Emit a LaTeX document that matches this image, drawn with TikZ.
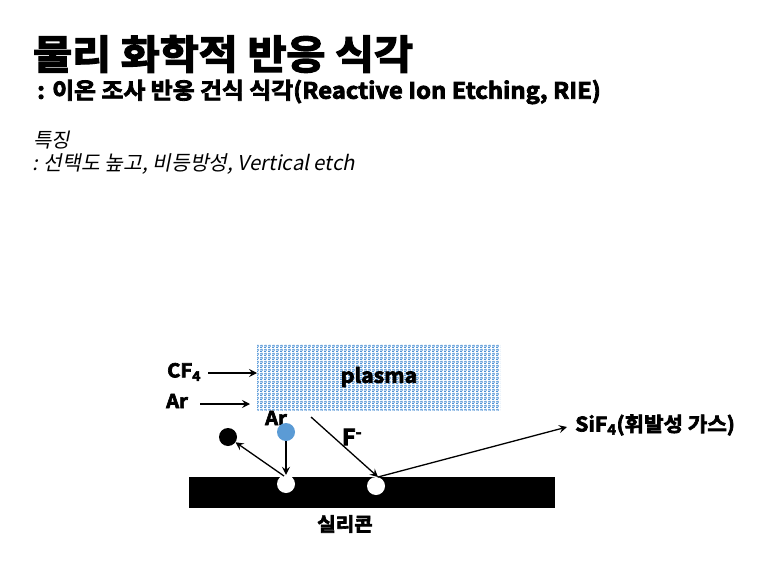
\documentclass[tikz,border=0pt]{standalone}
\usepackage{fontspec}
\usetikzlibrary{arrows.meta,patterns}
\setmainfont{Noto Sans CJK KR}
\newfontfamily\heavyf[FakeBold=3.5,FakeStretch=1.06]{Noto Sans CJK KR Bold}
\newfontfamily\slantf[FakeSlant=0.2]{Noto Sans CJK KR}
\definecolor{ionblue}{HTML}{5B9BD5}
\definecolor{plasmadot}{HTML}{4F93D6}
\pgfdeclarepatternformonly{plasmaweave}{\pgfqpoint{0pt}{0pt}}{\pgfqpoint{4pt}{4pt}}{\pgfqpoint{4pt}{4pt}}{
  \pgfpathrectangle{\pgfqpoint{0pt}{0pt}}{\pgfqpoint{2.4pt}{1.2pt}}
  \pgfpathrectangle{\pgfqpoint{2pt}{1pt}}{\pgfqpoint{1.2pt}{2.2pt}}
  \pgfpathrectangle{\pgfqpoint{0pt}{2pt}}{\pgfqpoint{1.2pt}{1.2pt}}
  \pgfpathrectangle{\pgfqpoint{1pt}{3pt}}{\pgfqpoint{2.4pt}{1pt}}
  \pgfusepath{fill}
}
\tikzset{
  lbl/.style={inner sep=0pt,font=\heavyf\fontsize{19}{21}\selectfont,text=black},
  ion/.style={circle,inner sep=0pt,minimum size=18pt},
  conn/.style={-{Stealth[length=8pt,width=8pt,inset=3pt]},line width=1.3pt,black},
}
\begin{document}
\begin{tikzpicture}[x=1pt,y=-1pt]
\path[use as bounding box,fill=white] (0,0) rectangle (773,580);
\node[anchor=west,inner sep=0pt,font=\heavyf\fontsize{40}{44}\selectfont] (title) at (33,54) {물리 화학적 반응 식각};
\node[anchor=west,inner sep=0pt,font=\heavyf\fontsize{22.5}{26}\selectfont] (sub) at (37,92) {: 이온 조사 반응 건식 식각(Reactive Ion Etching, RIE)};
\node[anchor=west,inner sep=0pt,font=\slantf\fontsize{20}{22}\selectfont] (feat) at (33,140) {특징};
\node[anchor=west,inner sep=0pt,font=\slantf\fontsize{20.4}{22}\selectfont] (feat2) at (32,164) {: 선택도 높고, 비등방성, Vertical etch};
%
\fill[pattern=plasmaweave,pattern color=plasmadot] (257,344) rectangle (500,410);
\coordinate (plasmaW) at (257,373);
\node[lbl,font=\heavyf\fontsize{20}{22}\selectfont] (plasma) at (379,377) {plasma};
\node[lbl,anchor=west] (cf) at (167,372) {CF\textsubscript{4}};
\node[lbl,anchor=west] (arA) at (166,401) {Ar};
\node[lbl] (arB) at (276,418) {Ar};
\node[lbl,font=\heavyf\fontsize{22}{24}\selectfont] (fion) at (352,437) {F\textsuperscript{-}};
\node[lbl,anchor=west,font=\heavyf\fontsize{20}{22}\selectfont] (sif) at (575,425) {SiF\textsubscript{4}(휘발성 가스)};
\node[lbl] (si) at (345,524) {실리콘};
\node[fill=black,minimum width=366pt,minimum height=31pt,inner sep=0pt] (bar) at (372,492.5) {};
\node[ion,fill=ionblue] (blue) at (286,432) {};
\node[ion,fill=black] (blk) at (228,437) {};
\node[ion,fill=white] (h1) at (286,484) {};
\node[ion,fill=white] (h2) at (376,486) {};
\coordinate (cfStart) at (208,373);
\coordinate (arEnd) at (250,404);
\coordinate (arStart) at (200,404);
\coordinate (fStart) at (311,417);
\coordinate (hit2) at (378,477);
\coordinate (hit1) at (284,476);
\coordinate (sifEnd) at (567,427);
\draw[conn] (cfStart) -- (plasmaW);
\draw[conn] (arStart) -- (arEnd);
\draw[conn] (blue) -- (h1.north);
\draw[conn] (hit1) -- (blk);
\draw[conn] (fStart) -- (hit2);
\draw[conn] (hit2) -- (sifEnd);
\end{tikzpicture}
\end{document}
